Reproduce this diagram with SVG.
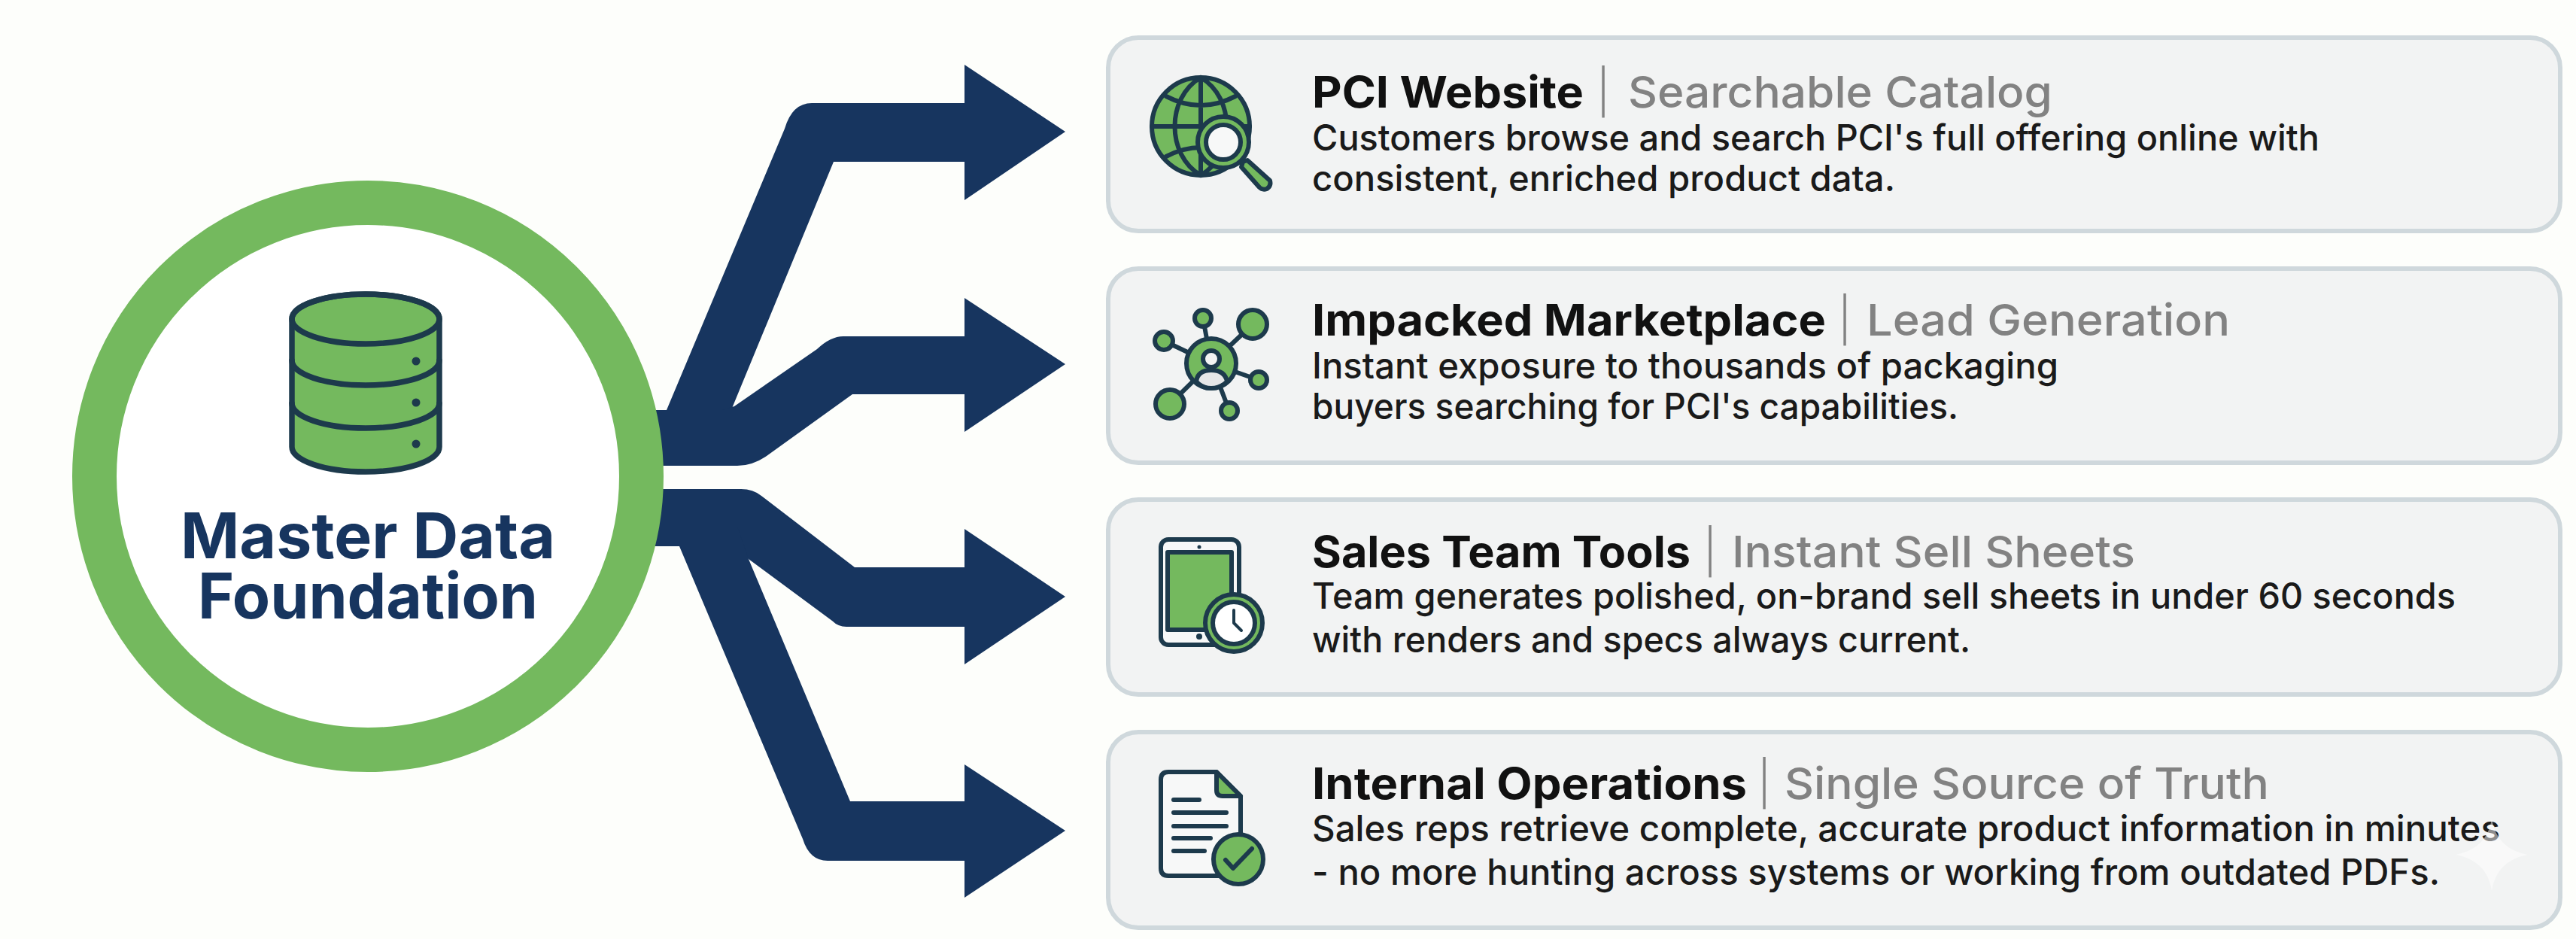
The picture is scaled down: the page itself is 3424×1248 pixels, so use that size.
<svg xmlns="http://www.w3.org/2000/svg" width="3424" height="1248" viewBox="0 0 3424 1248">
<style>
.arrow{fill:#17355f}
.card{fill:#f2f3f3;stroke:#cfd8dc;stroke-width:6}
text{font-family:"Inter","Liberation Sans",sans-serif}
.t{font-size:58px;font-weight:700;fill:#111}
.s{font-size:58px;font-weight:500;fill:#828282}
.p{font-size:58px;font-weight:300;fill:#828282}
.b{font-size:48px;font-weight:500;fill:#1a1a1a}
.h{font-size:84px;font-weight:700;fill:#17355f;text-anchor:middle}
.i{stroke:#1d3a4c;stroke-width:6;fill:none;stroke-linecap:round;stroke-linejoin:round}
.g{fill:#74b95e}
</style>
<rect width="3424" height="1248" fill="#fdfefb"/>
<g id="connectors">
<path class="arrow" d="M870 545L886 545L1043 171Q1053 137 1079 137L1282 137L1282 86L1416 175L1282 266L1282 215L1108 215L974 540L960 575L870 575Z"/>
<path class="arrow" d="M870 545L960 545L976 540L1086 464Q1104 447 1121 447L1282 447L1282 396L1416 484L1282 574L1282 524L1133 524L1019 606Q1000 619 980 619L870 619Z"/>
<path class="arrow" d="M870 650L985 650Q1001 650 1012 659L1136 754L1282 754L1282 703L1416 793L1282 883L1282 833L1125 833Q1114 833 1106 825L995 743L980 726L870 726Z"/>
<path class="arrow" d="M903 726L1067 1115Q1076 1144 1100 1144L1282 1144L1282 1193L1416 1104L1282 1016L1282 1065L1130 1065L995 743L980 700L903 700Z"/>
</g>
<g id="master-data-foundation">
<circle cx="489" cy="633" r="363.500" fill="#fff" stroke="#74b95e" stroke-width="59"/>
<g class="i" style="stroke-width:7.500">
<path class="g" d="M388 424A98 33 0 0 1 584 424L584 594A98 33 0 0 1 388 594Z"/>
<ellipse cx="486" cy="424" rx="98" ry="33"/>
<path d="M388 479A98 33 0 0 0 584 479M388 536A98 33 0 0 0 584 536"/>
</g>
<g fill="#1d3a4c"><circle cx="553" cy="480" r="5.500"/><circle cx="553" cy="535" r="5.500"/><circle cx="553" cy="590" r="5.500"/></g>
<text class="h" x="489" y="742" textLength="498" lengthAdjust="spacingAndGlyphs">Master Data</text>
<text class="h" x="489" y="822" textLength="452" lengthAdjust="spacingAndGlyphs">Foundation</text>
</g>
<g id="pci-website">
<rect class="card" x="1473" y="50" width="1930" height="257" rx="40"/>
<g class="i">
<circle class="g" cx="1596" cy="168" r="65"/>
<path d="M1596 103L1596 233M1531 168L1661 168M1596 103C1550 130 1550 206 1596 233M1596 103C1642 130 1642 206 1596 233M1550 128Q1596 152 1642 128M1550 208Q1596 184 1642 208"/>
<circle class="g" cx="1626" cy="189" r="34"/>
<circle cx="1626" cy="189" r="23" fill="#f7f8f8"/>
<path class="g" d="M1652 215L1658 213L1688 240Q1690 247 1684 251Q1678 253 1674 249L1650 222Z"/>
</g>
<text class="t" x="1744" y="143" textLength="361" lengthAdjust="spacingAndGlyphs">PCI Website</text>
<text class="p" x="2122" y="143">|</text>
<text class="s" x="2164" y="143" textLength="564" lengthAdjust="spacingAndGlyphs">Searchable Catalog</text>
<text class="b" x="1744" y="200" textLength="1339" lengthAdjust="spacingAndGlyphs">Customers browse and search PCI's full offering online with</text>
<text class="b" x="1744" y="254" textLength="775" lengthAdjust="spacingAndGlyphs">consistent, enriched product data.</text>
</g>
<g id="impacked-marketplace">
<rect class="card" x="1473" y="357" width="1930" height="258" rx="40"/>
<g class="i">
<path d="M1599 423L1610 483M1665 431L1610 483M1547 453L1610 483M1673 505L1610 483M1555 537L1610 483M1634 546L1610 483"/>
<circle class="g" cx="1610" cy="483" r="33"/>
<circle cx="1610" cy="477" r="11" fill="#f2f3f3"/>
<path d="M1590 507Q1592 492 1610 492Q1628 492 1631 507Q1622 516 1610 516Q1598 516 1590 507Z" fill="#e6e7e7"/>
<circle class="g" cx="1599" cy="423" r="11"/>
<circle class="g" cx="1665" cy="431" r="19"/>
<circle class="g" cx="1547" cy="453" r="12"/>
<circle class="g" cx="1673" cy="505" r="11"/>
<circle class="g" cx="1555" cy="537" r="19"/>
<circle class="g" cx="1634" cy="546" r="11"/>
</g>
<text class="t" x="1744" y="446" textLength="683" lengthAdjust="spacingAndGlyphs">Impacked Marketplace</text>
<text class="p" x="2443" y="446">|</text>
<text class="s" x="2481" y="446" textLength="483" lengthAdjust="spacingAndGlyphs">Lead Generation</text>
<text class="b" x="1744" y="503" textLength="992" lengthAdjust="spacingAndGlyphs">Instant exposure to thousands of packaging</text>
<text class="b" x="1744" y="557" textLength="859" lengthAdjust="spacingAndGlyphs">buyers searching for PCI's capabilities.</text>
</g>
<g id="sales-team-tools">
<rect class="card" x="1473" y="664" width="1930" height="259" rx="40"/>
<g class="i">
<rect x="1543" y="717" width="104" height="140" rx="10" fill="#f7f8f8"/>
<rect class="g" x="1552" y="734" width="85" height="103"/>
<circle class="g" cx="1640" cy="828" r="38"/>
<circle cx="1640" cy="828" r="28" fill="#fff"/>
<path d="M1640 811L1640 828L1650 838" stroke-width="4"/>
</g>
<g fill="#1d3a4c"><circle cx="1594" cy="727" r="2.500"/><circle cx="1594" cy="846" r="4"/></g>
<text class="t" x="1744" y="754" textLength="503" lengthAdjust="spacingAndGlyphs">Sales Team Tools</text>
<text class="p" x="2264" y="754">|</text>
<text class="s" x="2302" y="754" textLength="536" lengthAdjust="spacingAndGlyphs">Instant Sell Sheets</text>
<text class="b" x="1744" y="809" textLength="1520" lengthAdjust="spacingAndGlyphs">Team generates polished, on-brand sell sheets in under 60 seconds</text>
<text class="b" x="1744" y="867" textLength="875" lengthAdjust="spacingAndGlyphs">with renders and specs always current.</text>
</g>
<g id="internal-operations">
<rect class="card" x="1473" y="973" width="1930" height="260" rx="40"/>
<g class="i">
<path d="M1553 1026L1617 1026L1649 1058L1649 1164L1553 1164Q1543 1164 1543 1154L1543 1036Q1543 1026 1553 1026Z" fill="#f7f8f8"/>
<path class="g" d="M1617 1026L1649 1058L1625 1058Q1617 1058 1617 1050Z"/>
<path d="M1560 1063L1594 1063M1560 1080L1630 1080M1560 1098L1630 1098M1560 1114L1609 1114M1560 1131L1601 1131"/>
<circle class="g" cx="1646" cy="1142" r="33"/>
<path d="M1629 1143L1639 1154L1664 1128"/>
</g>
<text class="t" x="1744" y="1062" textLength="578" lengthAdjust="spacingAndGlyphs">Internal Operations</text>
<text class="p" x="2336" y="1062">|</text>
<text class="s" x="2372" y="1062" textLength="644" lengthAdjust="spacingAndGlyphs">Single Source of Truth</text>
<text class="b" x="1744" y="1118" textLength="1579" lengthAdjust="spacingAndGlyphs">Sales reps retrieve complete, accurate product information in minutes</text>
<text class="b" x="1744" y="1176" textLength="1499" lengthAdjust="spacingAndGlyphs">- no more hunting across systems or working from outdated PDFs.</text>
<path d="M3312 1088Q3318 1128 3360 1136Q3318 1144 3312 1184Q3306 1144 3264 1136Q3306 1128 3312 1088Z" fill="#fff" fill-opacity=".5"/>
</g>
</svg>
